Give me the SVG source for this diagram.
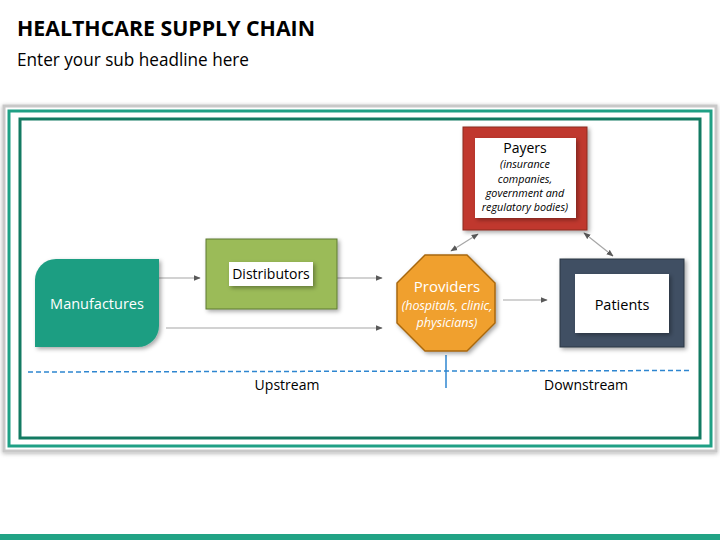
<svg xmlns="http://www.w3.org/2000/svg" width="720" height="540" viewBox="0 0 720 540">
<defs>
<filter id="sh" x="-20%" y="-20%" width="150%" height="150%">
<feDropShadow dx="2" dy="2" stdDeviation="2" flood-color="#000" flood-opacity="0.35"/>
</filter>
<filter id="fsh" x="-5%" y="-5%" width="110%" height="110%">
<feDropShadow dx="0" dy="1" stdDeviation="2" flood-color="#000" flood-opacity="0.3"/>
</filter>
<marker id="ah" viewBox="0 0 10 10" refX="9" refY="5" markerWidth="7" markerHeight="7" orient="auto-start-reverse" markerUnits="userSpaceOnUse">
<path d="M0,1 L10,5 L0,9 Z" fill="#595959"/>
</marker>
<style>
.t{font-family:"Open Sans","Liberation Sans",sans-serif}
.con{stroke:#a6a6a6;stroke-width:1.2;fill:none}
.lbl{font-family:"Open Sans","Liberation Sans",sans-serif;font-size:14px;fill:#000}
.it{font-style:italic}
</style>
</defs>
<rect width="720" height="540" fill="#fff"/>
<text x="17" y="36" class="t" font-size="22" font-weight="700" fill="#000" textLength="298" lengthAdjust="spacingAndGlyphs">HEALTHCARE SUPPLY CHAIN</text>
<text x="17" y="66" class="t" font-size="18" fill="#000" textLength="232" lengthAdjust="spacingAndGlyphs">Enter your sub headline here</text>
<rect x="0" y="534" width="720" height="6" fill="#21a385"/>
<g id="frame">
<rect x="4" y="106" width="712" height="345" fill="#fff" stroke="#c8c8c8" stroke-width="3" filter="url(#fsh)"/>
<rect x="9" y="111" width="702" height="335" fill="none" stroke="#1fa085" stroke-width="3"/>
<rect x="20" y="119" width="680" height="319" fill="none" stroke="#137a62" stroke-width="3"/>
</g>
<g id="connectors">
<line class="con" x1="159" y1="278" x2="200" y2="278" marker-end="url(#ah)"/>
<line class="con" x1="166" y1="328" x2="382" y2="328" marker-end="url(#ah)"/>
<line class="con" x1="337" y1="278" x2="382" y2="278" marker-end="url(#ah)"/>
<line class="con" x1="503" y1="300" x2="547" y2="300" marker-end="url(#ah)"/>
<line class="con" x1="451" y1="251" x2="478" y2="234" marker-start="url(#ah)" marker-end="url(#ah)"/>
<line class="con" x1="584" y1="233" x2="613" y2="256" marker-start="url(#ah)" marker-end="url(#ah)"/>
<line x1="28" y1="372" x2="690" y2="370.5" stroke="#2e86d0" stroke-width="1.5" stroke-dasharray="5,3"/>
<line x1="446" y1="355" x2="446" y2="388" stroke="#2e86d0" stroke-width="1.5"/>
</g>
<g id="manufactures">
<path d="M56,259 H159 V326 A21,21 0 0 1 138,347 H35 V280 A21,21 0 0 1 56,259 Z" fill="#1e9e82" filter="url(#sh)"/>
<text x="97" y="309" class="t" font-size="14.5" fill="#fff" text-anchor="middle">Manufactures</text>
</g>
<g id="distributors">
<rect x="206" y="239" width="131" height="70" fill="#9bbb59" stroke="#5e7a30" stroke-width="1" filter="url(#sh)"/>
<rect x="229" y="262" width="84" height="24" fill="#fff" filter="url(#sh)"/>
<text x="271" y="279" class="t" font-size="14" fill="#000" text-anchor="middle">Distributors</text>
</g>
<g id="providers">
<polygon points="425,255 467,255 495,283 495,323 467,351 425,351 397,323 397,283" fill="#f0a02e" stroke="#a8680f" stroke-width="1.5" filter="url(#sh)"/>
<text x="447" y="292" class="t" font-size="15" fill="#fff" text-anchor="middle">Providers</text>
<text x="447" y="310" class="t it" font-size="12.5" fill="#fff" text-anchor="middle">(hospitals, clinic,</text>
<text x="447" y="327" class="t it" font-size="12.5" fill="#fff" text-anchor="middle">physicians)</text>
</g>
<g id="payers">
<rect x="463" y="127" width="124" height="103" fill="#c0392f" stroke="#8b2a22" stroke-width="1" filter="url(#sh)"/>
<rect x="475" y="138" width="101" height="80" fill="#fff" filter="url(#sh)"/>
<text x="525" y="153" class="t" font-size="14" fill="#000" text-anchor="middle">Payers</text>
<text x="525" y="168" class="t it" font-size="10.8" fill="#000" text-anchor="middle">(insurance</text>
<text x="525" y="183" class="t it" font-size="10.8" fill="#000" text-anchor="middle">companies,</text>
<text x="525" y="197" class="t it" font-size="10.8" fill="#000" text-anchor="middle">government and</text>
<text x="525" y="211" class="t it" font-size="10.8" fill="#000" text-anchor="middle">regulatory bodies)</text>
</g>
<g id="patients">
<rect x="560" y="259" width="124" height="88" fill="#3f4f63" stroke="#2b3645" stroke-width="1" filter="url(#sh)"/>
<rect x="575" y="274" width="94" height="59" fill="#fff" filter="url(#sh)"/>
<text x="622" y="310" class="t" font-size="14.5" fill="#000" text-anchor="middle">Patients</text>
</g>
<text x="287" y="390" class="lbl" text-anchor="middle">Upstream</text>
<text x="586" y="390" class="lbl" text-anchor="middle">Downstream</text>
</svg>
